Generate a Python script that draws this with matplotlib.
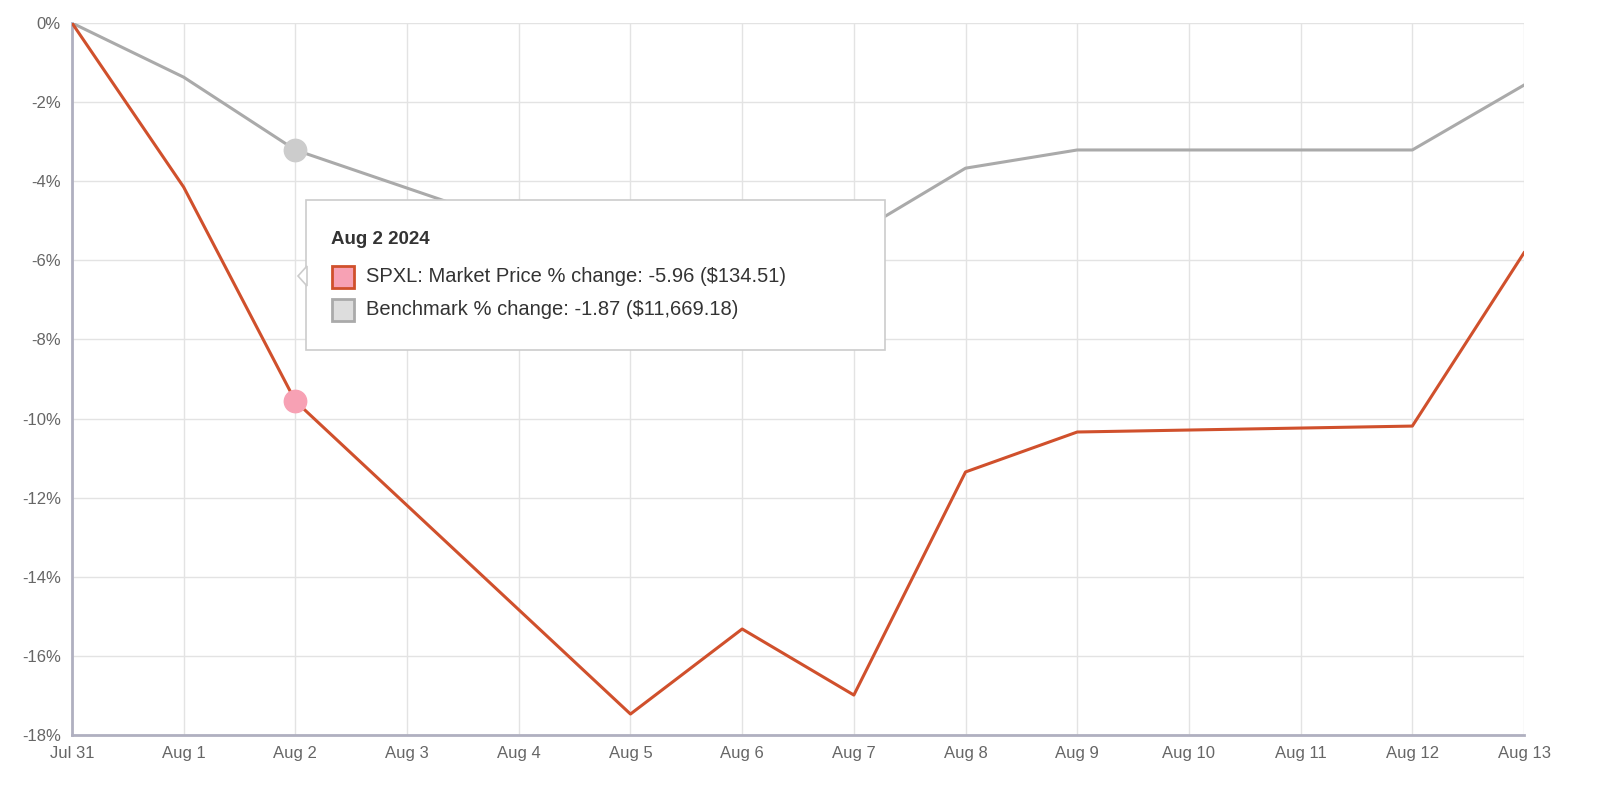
import matplotlib
matplotlib.use("Agg")
import matplotlib.pyplot as plt
from matplotlib.patches import Rectangle, Polygon
import datetime as dt

plt.rcParams['font.family'] = ['Liberation Sans', 'DejaVu Sans']

dates = ["2024-07-31","2024-08-01","2024-08-02","2024-08-05","2024-08-06",
         "2024-08-07","2024-08-08","2024-08-09","2024-08-12","2024-08-13"]
spxl = [0, -4.15, -9.56, -17.47, -15.32, -16.99, -11.35, -10.34, -10.19, -5.81]
bench = [0, -1.37, -3.21, -6.1, -5.0, -5.36, -3.67, -3.21, -3.21, -1.57]
tick_labels = ["Jul 31","Aug 1","Aug 2","Aug 3","Aug 4","Aug 5","Aug 6","Aug 7",
               "Aug 8","Aug 9","Aug 10","Aug 11","Aug 12","Aug 13"]
yticks = [0, -2, -4, -6, -8, -10, -12, -14, -16, -18]

x = [dt.datetime.strptime(d, "%Y-%m-%d") for d in dates]
tick_dates = [dt.datetime(2024,7,31) + dt.timedelta(days=i) for i in range(len(tick_labels))]

fig = plt.figure(figsize=(16.2, 8.1), dpi=100)
ax = fig.add_axes([72/1620, 1-735/810, (1524-72)/1620, (735-23)/810])
ax.plot(x, bench, color="#aaaaaa", lw=2.2, zorder=3)
ax.plot(x, spxl, color="#d0502c", lw=2.2, zorder=4)
ax.scatter([x[2]], [bench[2]], s=260, color="#cccccc", zorder=5)
ax.scatter([x[2]], [spxl[2]], s=260, color="#f7a1b4", zorder=5)

ax.set_xlim(tick_dates[0], tick_dates[-1])
ax.set_ylim(-18, 0)
ax.set_xticks(tick_dates)
ax.set_xticklabels(tick_labels)
ax.set_yticks(yticks)
ax.set_yticklabels([f"{v}%" for v in yticks])
ax.grid(True, color="#e3e3e3", lw=1)
ax.set_axisbelow(True)
for s in ["top", "right"]:
    ax.spines[s].set_visible(False)
ax.spines["left"].set_color("#b0b0c0"); ax.spines["left"].set_linewidth(2)
ax.spines["bottom"].set_color("#b0b0c0"); ax.spines["bottom"].set_linewidth(2)
ax.tick_params(colors="#666666", labelsize=12, length=0, pad=8)

W, H = 1620, 810
def fx(px): return px / W
def fy(py): return 1 - py / H
fig.patches.append(Rectangle((fx(306), fy(350)), fx(885)-fx(306), fy(200)-fy(350),
                             transform=fig.transFigure, facecolor="white",
                             edgecolor="#cccccc", lw=1.2, zorder=10))
fig.patches.append(Polygon([(fx(307), fy(266)), (fx(298), fy(276)), (fx(307), fy(286))],
                           closed=True, transform=fig.transFigure, facecolor="white",
                           edgecolor="#cccccc", lw=1.2, zorder=10))
fig.patches.append(Rectangle((fx(307.5), fy(285)), fx(2), fy(267)-fy(285),
                             transform=fig.transFigure, facecolor="white", edgecolor="none", zorder=11))
fig.text(fx(331), fy(239), "Aug 2 2024", fontsize=13.5, fontweight="bold", color="#333333",
         va="center", zorder=12)
fig.patches.append(Rectangle((fx(332), fy(288)), fx(22), fy(266)-fy(288), transform=fig.transFigure,
                             facecolor="#f7a1b4", edgecolor="#d0502c", lw=2, zorder=12))
fig.patches.append(Rectangle((fx(332), fy(321)), fx(22), fy(299)-fy(321), transform=fig.transFigure,
                             facecolor="#dddddd", edgecolor="#aaaaaa", lw=2, zorder=12))
fig.text(fx(366), fy(277), "SPXL: Market Price % change: -5.96 ($134.51)", fontsize=14.5,
         color="#333333", va="center", zorder=12)
fig.text(fx(366), fy(310), "Benchmark % change: -1.87 ($11,669.18)", fontsize=14.5,
         color="#333333", va="center", zorder=12)

fig.savefig("out.png", dpi=100)
